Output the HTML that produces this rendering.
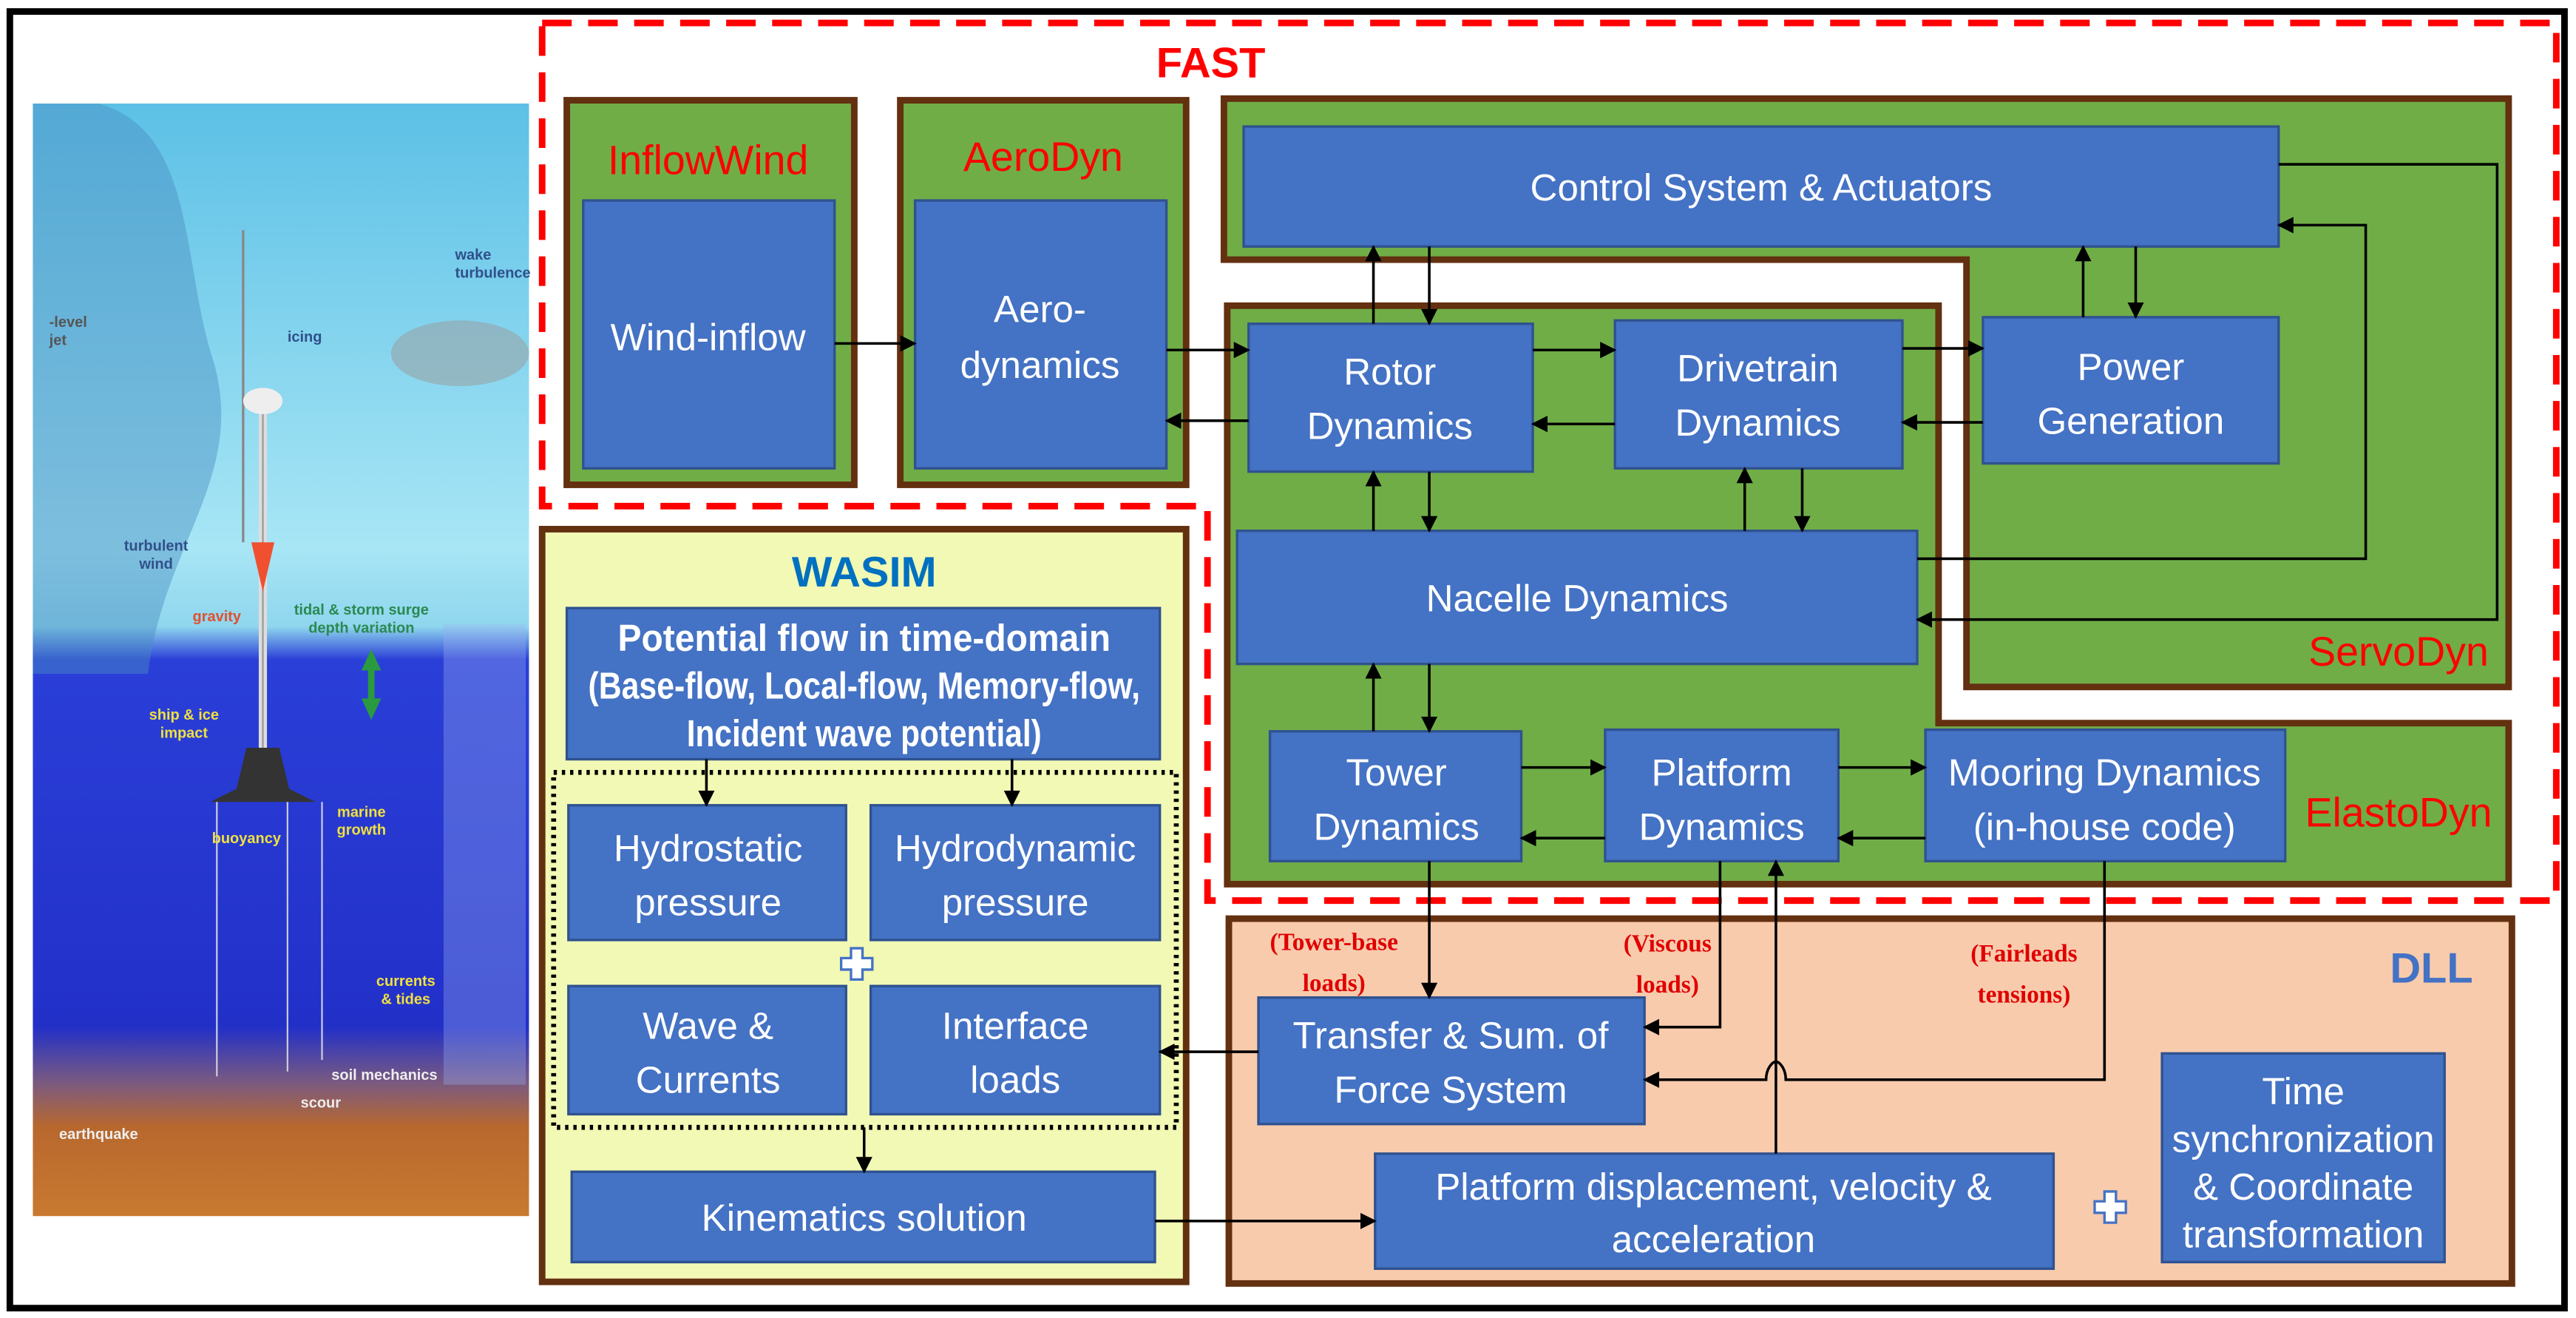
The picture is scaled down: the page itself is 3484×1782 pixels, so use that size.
<!DOCTYPE html>
<html><head><meta charset="utf-8"><style>
html,body{margin:0;padding:0;background:#fff;}
svg{display:block;}
text{font-family:"Liberation Sans",sans-serif;}
.bt{fill:#fff;font-size:23px;text-anchor:middle;}
.bl{fill:#4472c4;stroke:#2f528f;stroke-width:1.5;}
.gr{fill:#70ad47;stroke:#633010;stroke-width:4;}
.ln{stroke:#000;stroke-width:1.6;fill:none;}
.rl{fill:#e00000;font-family:"Liberation Serif",serif;font-weight:bold;font-size:15px;text-anchor:middle;}
.im{font-size:9px;font-weight:bold;}
.pl{fill:#fff;stroke:#4472c4;stroke-width:1.5;}
</style></head><body>
<svg width="3484" height="1782" viewBox="0 0 1568 802" xmlns="http://www.w3.org/2000/svg">
<defs>
<marker id="a" markerWidth="10" markerHeight="10" refX="9" refY="5" orient="auto" markerUnits="userSpaceOnUse">
<path d="M0,0 L10,5 L0,10 z" fill="#000"/></marker>
<linearGradient id="sky" x1="0" y1="0" x2="0" y2="1">
<stop offset="0" stop-color="#5cc0e6"/><stop offset="0.4" stop-color="#a8e6f5"/><stop offset="0.47" stop-color="#8fd6ee"/>
<stop offset="0.5" stop-color="#2a3fd8"/><stop offset="0.83" stop-color="#2230c8"/><stop offset="0.88" stop-color="#7a5a80"/>
<stop offset="0.92" stop-color="#b8682e"/><stop offset="1" stop-color="#c87a30"/></linearGradient>
</defs>
<rect x="0" y="0" width="1568" height="802" fill="#fff"/>
<rect x="6" y="7" width="1555" height="789" fill="none" stroke="#000" stroke-width="4"/>
<!-- left image -->
<rect x="20" y="63" width="302" height="677" fill="url(#sky)"/>
<path d="M20,63 L60,63 C120,80 110,160 130,220 C150,290 100,330 90,410 L20,410 z" fill="#4a8fc0" opacity="0.45"/>
<ellipse cx="280" cy="215" rx="42" ry="20" fill="#999" opacity="0.5"/>
<line x1="160" y1="245" x2="160" y2="460" stroke="#ddd" stroke-width="5"/>
<line x1="160" y1="245" x2="160" y2="460" stroke="#999" stroke-width="1"/>
<line x1="148" y1="140" x2="148" y2="330" stroke="#888" stroke-width="1.5"/>
<ellipse cx="160" cy="244" rx="12" ry="8" fill="#eee"/>
<path d="M153,330 L167,330 L160,360 z" fill="#f05030"/>
<path d="M150,455 L170,455 L176,480 L192,488 L128,488 L144,480 z" fill="#333"/>
<line x1="132" y1="488" x2="132" y2="655" stroke="#ccd" stroke-width="1"/>
<line x1="175" y1="488" x2="175" y2="652" stroke="#ccd" stroke-width="1"/>
<line x1="196" y1="488" x2="196" y2="645" stroke="#ccd" stroke-width="1"/>
<path d="M226,395 L220,408 L232,408 z M226,438 L220,425 L232,425 z" fill="#2a9a40"/>
<rect x="224" y="405" width="4" height="22" fill="#2a9a40"/>
<rect x="270" y="380" width="50" height="280" fill="#9ab0f0" opacity="0.35"/>
<text x="288" y="158" class="im" fill="#30508a" text-anchor="middle">wake</text>
<text x="300" y="169" class="im" fill="#30508a" text-anchor="middle">turbulence</text>
<text x="175" y="208" class="im" fill="#30508a">icing</text>
<text x="30" y="199" class="im" fill="#555">-level</text><text x="30" y="210" class="im" fill="#555">jet</text>
<text x="95" y="335" class="im" fill="#30508a" text-anchor="middle">turbulent</text>
<text x="95" y="346" class="im" fill="#30508a" text-anchor="middle">wind</text>
<text x="132" y="378" class="im" fill="#e05030" text-anchor="middle">gravity</text>
<text x="220" y="374" class="im" fill="#2a8a50" text-anchor="middle">tidal &amp; storm surge</text>
<text x="220" y="385" class="im" fill="#2a8a50" text-anchor="middle">depth variation</text>
<text x="112" y="438" class="im" fill="#f0e040" text-anchor="middle">ship &amp; ice</text>
<text x="112" y="449" class="im" fill="#f0e040" text-anchor="middle">impact</text>
<text x="150" y="513" class="im" fill="#f0e040" text-anchor="middle">buoyancy</text>
<text x="220" y="497" class="im" fill="#f0e040" text-anchor="middle">marine</text>
<text x="220" y="508" class="im" fill="#f0e040" text-anchor="middle">growth</text>
<text x="247" y="600" class="im" fill="#f0e040" text-anchor="middle">currents</text>
<text x="247" y="611" class="im" fill="#f0e040" text-anchor="middle">&amp; tides</text>
<text x="234" y="657" class="im" fill="#eee" text-anchor="middle">soil mechanics</text>
<text x="183" y="674" class="im" fill="#eee">scour</text>
<text x="60" y="693" class="im" fill="#eee" text-anchor="middle">earthquake</text>

<!-- FAST dashed -->
<path d="M330,14 L1556,14 L1556,548 L735,548 L735,308 L330,308 z" fill="none" stroke="#ff0000" stroke-width="4" stroke-dasharray="18,10"/>
<text x="737" y="47" fill="#ff0000" font-size="26" font-weight="bold" text-anchor="middle">FAST</text>

<!-- InflowWind -->
<rect x="345" y="61" width="175" height="234" class="gr"/>
<text x="431" y="106" fill="#ff0000" font-size="25" text-anchor="middle">InflowWind</text>
<rect x="355" y="122" width="153" height="163" class="bl"/>
<text x="431" y="213" class="bt">Wind-inflow</text>
<!-- AeroDyn -->
<rect x="548" y="61" width="174" height="234" class="gr"/>
<text x="635" y="104" fill="#ff0000" font-size="25" text-anchor="middle">AeroDyn</text>
<rect x="557" y="122" width="153" height="163" class="bl"/>
<text x="633" y="196" class="bt">Aero-</text><text x="633" y="230" class="bt">dynamics</text>

<!-- ServoDyn -->
<path d="M745,60 L1527,60 L1527,418 L1197,418 L1197,158 L745,158 z" class="gr"/>
<text x="1460" y="405" fill="#ff0000" font-size="25" text-anchor="middle">ServoDyn</text>
<!-- ElastoDyn -->
<path d="M747,186 L1180,186 L1180,440 L1527,440 L1527,538 L747,538 z" class="gr"/>
<text x="1460" y="503" fill="#ff0000" font-size="25" text-anchor="middle">ElastoDyn</text>

<rect x="757" y="77" width="630" height="73" class="bl"/>
<text x="1072" y="122" class="bt">Control System &amp; Actuators</text>
<rect x="760" y="197" width="173" height="90" class="bl"/>
<text x="846" y="234" class="bt">Rotor</text><text x="846" y="267" class="bt">Dynamics</text>
<rect x="983" y="195" width="175" height="90" class="bl"/>
<text x="1070" y="232" class="bt">Drivetrain</text><text x="1070" y="265" class="bt">Dynamics</text>
<rect x="1207" y="193" width="180" height="89" class="bl"/>
<text x="1297" y="231" class="bt" fill="#e8ecf8">Power</text><text x="1297" y="264" class="bt" fill="#e8ecf8">Generation</text>
<rect x="753" y="323" width="414" height="81" class="bl"/>
<text x="960" y="372" class="bt">Nacelle Dynamics</text>
<rect x="773" y="445" width="153" height="79" class="bl"/>
<text x="850" y="478" class="bt">Tower</text><text x="850" y="511" class="bt">Dynamics</text>
<rect x="977" y="444" width="142" height="80" class="bl"/>
<text x="1048" y="478" class="bt">Platform</text><text x="1048" y="511" class="bt">Dynamics</text>
<rect x="1172" y="444" width="219" height="80" class="bl"/>
<text x="1281" y="478" class="bt">Mooring Dynamics</text><text x="1281" y="511" class="bt">(in-house code)</text>

<!-- WASIM -->
<rect x="330" y="322" width="392" height="458" fill="#f2f9b4" stroke="#633010" stroke-width="4"/>
<text x="526" y="357" fill="#0070c0" font-size="26" font-weight="bold" text-anchor="middle">WASIM</text>
<rect x="345" y="370" width="361" height="92" class="bl"/>
<text x="526" y="396" class="bt" font-size="20" font-weight="bold" textLength="300" lengthAdjust="spacingAndGlyphs">Potential flow in time-domain</text>
<text x="526" y="425" class="bt" font-size="18" font-weight="bold" textLength="336" lengthAdjust="spacingAndGlyphs">(Base-flow, Local-flow, Memory-flow,</text>
<text x="526" y="454" class="bt" font-size="18" font-weight="bold" textLength="216" lengthAdjust="spacingAndGlyphs">Incident wave potential)</text>
<rect x="337" y="470" width="379" height="216" fill="none" stroke="#000" stroke-width="3" stroke-dasharray="2,3"/>
<rect x="346" y="490" width="169" height="82" class="bl"/>
<text x="431" y="524" class="bt">Hydrostatic</text><text x="431" y="557" class="bt">pressure</text>
<rect x="530" y="490" width="176" height="82" class="bl"/>
<text x="618" y="524" class="bt">Hydrodynamic</text><text x="618" y="557" class="bt">pressure</text>
<path class="pl" d="M518,577 h7 v6 h6 v7 h-6 v6 h-7 v-6 h-6 v-7 h6 z"/>
<rect x="346" y="600" width="169" height="78" class="bl"/>
<text x="431" y="632" class="bt">Wave &amp;</text><text x="431" y="665" class="bt">Currents</text>
<rect x="530" y="600" width="176" height="78" class="bl"/>
<text x="618" y="632" class="bt">Interface</text><text x="618" y="665" class="bt">loads</text>
<rect x="348" y="713" width="355" height="55" class="bl"/>
<text x="526" y="749" class="bt">Kinematics solution</text>

<!-- DLL -->
<rect x="748" y="559" width="781" height="222" fill="#f8cbad" stroke="#633010" stroke-width="4"/>
<text x="1480" y="598" fill="#4472c4" font-size="26" font-weight="bold" text-anchor="middle">DLL</text>
<rect x="766" y="607" width="235" height="77" class="bl"/>
<text x="883" y="638" class="bt">Transfer &amp; Sum. of</text><text x="883" y="671" class="bt">Force System</text>
<rect x="837" y="702" width="413" height="70" class="bl"/>
<text x="1043" y="730" class="bt">Platform displacement, velocity &amp;</text><text x="1043" y="762" class="bt">acceleration</text>
<path class="pl" d="M1281,725 h7 v6 h6 v7 h-6 v6 h-7 v-6 h-6 v-7 h6 z"/>
<rect x="1316" y="641" width="172" height="127" class="bl"/>
<text x="1402" y="672" class="bt" font-size="21">Time</text>
<text x="1402" y="701" class="bt" font-size="21">synchronization</text>
<text x="1402" y="730" class="bt" font-size="21">&amp; Coordinate</text>
<text x="1402" y="759" class="bt" font-size="21">transformation</text>
<text x="812" y="578" class="rl">(Tower-base</text><text x="812" y="603" class="rl">loads)</text>
<text x="1015" y="579" class="rl">(Viscous</text><text x="1015" y="604" class="rl">loads)</text>
<text x="1232" y="585" class="rl">(Fairleads</text><text x="1232" y="610" class="rl">tensions)</text>

<!-- connectors -->
<line x1="508" y1="209" x2="557" y2="209" class="ln" marker-end="url(#a)"/>
<line x1="710" y1="213" x2="760" y2="213" class="ln" marker-end="url(#a)"/>
<line x1="760" y1="256" x2="710" y2="256" class="ln" marker-end="url(#a)"/>
<line x1="933" y1="213" x2="983" y2="213" class="ln" marker-end="url(#a)"/>
<line x1="983" y1="258" x2="933" y2="258" class="ln" marker-end="url(#a)"/>
<line x1="1158" y1="212" x2="1207" y2="212" class="ln" marker-end="url(#a)"/>
<line x1="1207" y1="257" x2="1158" y2="257" class="ln" marker-end="url(#a)"/>
<line x1="836" y1="197" x2="836" y2="150" class="ln" marker-end="url(#a)"/>
<line x1="870" y1="150" x2="870" y2="197" class="ln" marker-end="url(#a)"/>
<line x1="1268" y1="193" x2="1268" y2="150" class="ln" marker-end="url(#a)"/>
<line x1="1300" y1="150" x2="1300" y2="193" class="ln" marker-end="url(#a)"/>
<polyline points="1387,100 1520,100 1520,377 1167,377" class="ln" marker-end="url(#a)"/>
<polyline points="1167,340 1440,340 1440,137 1387,137" class="ln" marker-end="url(#a)"/>
<line x1="836" y1="323" x2="836" y2="287" class="ln" marker-end="url(#a)"/>
<line x1="870" y1="287" x2="870" y2="323" class="ln" marker-end="url(#a)"/>
<line x1="1062" y1="323" x2="1062" y2="285" class="ln" marker-end="url(#a)"/>
<line x1="1097" y1="285" x2="1097" y2="323" class="ln" marker-end="url(#a)"/>
<line x1="836" y1="445" x2="836" y2="404" class="ln" marker-end="url(#a)"/>
<line x1="870" y1="404" x2="870" y2="445" class="ln" marker-end="url(#a)"/>
<line x1="926" y1="467" x2="977" y2="467" class="ln" marker-end="url(#a)"/>
<line x1="977" y1="510" x2="926" y2="510" class="ln" marker-end="url(#a)"/>
<line x1="1119" y1="467" x2="1172" y2="467" class="ln" marker-end="url(#a)"/>
<line x1="1172" y1="510" x2="1119" y2="510" class="ln" marker-end="url(#a)"/>
<line x1="870" y1="524" x2="870" y2="607" class="ln" marker-end="url(#a)"/>
<polyline points="1047,524 1047,625 1001,625" class="ln" marker-end="url(#a)"/>
<path d="M1281,524 L1281,657 L1087,657 C1087,650 1083,646 1081,646 C1079,646 1075,650 1075,657 L1001,657" class="ln" marker-end="url(#a)"/>
<line x1="1081" y1="702" x2="1081" y2="524" class="ln" marker-end="url(#a)"/>
<line x1="766" y1="640" x2="706" y2="640" class="ln" marker-end="url(#a)"/>
<line x1="430" y1="462" x2="430" y2="490" class="ln" marker-end="url(#a)"/>
<line x1="616" y1="462" x2="616" y2="490" class="ln" marker-end="url(#a)"/>
<line x1="526" y1="686" x2="526" y2="713" class="ln" marker-end="url(#a)"/>
<line x1="703" y1="743" x2="837" y2="743" class="ln" marker-end="url(#a)"/>
</svg>
</body></html>
